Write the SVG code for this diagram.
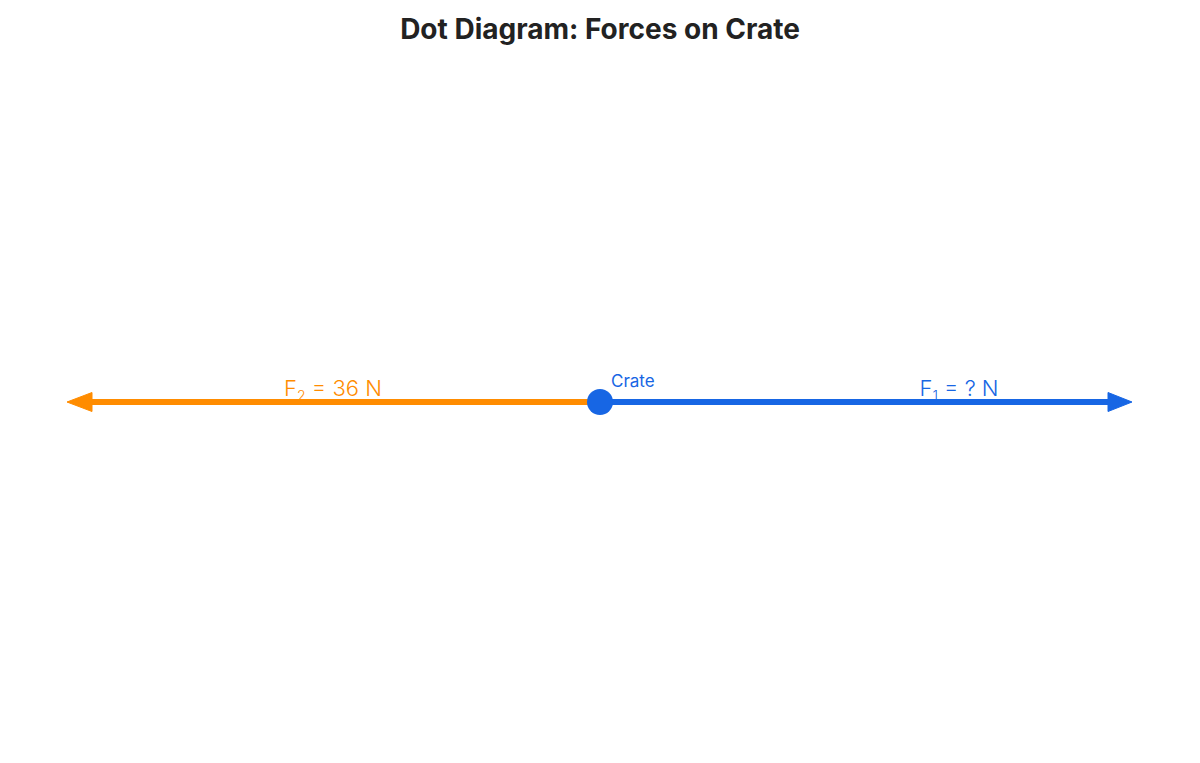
<svg xmlns="http://www.w3.org/2000/svg" width="1200" height="763" viewBox="0 0 1200 763">
<style>
text{font-family:Inter,"Noto Sans","Liberation Sans",sans-serif}
.title{font-size:28px;font-weight:700;fill:#222222;text-anchor:middle}
.lbl{font-size:22px;font-weight:300;text-anchor:middle}
.sub{font-size:14px}
.orange{fill:#FF8C00}
.blue{fill:#1766E4}
</style>
<rect width="1200" height="763" fill="#ffffff"/>
<text class="title" x="600" y="39">Dot Diagram: Forces on Crate</text>
<g id="connectors">
<g id="f2">
<line x1="600" y1="402" x2="90" y2="402" stroke="#FF8C00" stroke-width="6"/>
<polygon points="67,402 92,392.5 92,411.5" fill="#FF8C00" stroke="#FF8C00" stroke-width="1" stroke-linejoin="round"/>
</g>
<g id="f1">
<line x1="600" y1="402" x2="1110" y2="402" stroke="#1766E4" stroke-width="6"/>
<polygon points="1132,402 1108,392.5 1108,411.5" fill="#1766E4" stroke="#1766E4" stroke-width="1" stroke-linejoin="round"/>
</g>
</g>
<g id="crate">
<circle cx="600" cy="402" r="13" fill="#1766E4"/>
<text x="611" y="387" font-size="17" class="blue">Crate</text>
</g>
<g id="label-f2">
<text class="lbl orange" x="333" y="396">F<tspan class="sub" dy="5">2</tspan><tspan dy="-5"> = 36 N</tspan></text>
</g>
<g id="label-f1">
<text class="lbl blue" x="959" y="396">F<tspan class="sub" dy="5">1</tspan><tspan dy="-5"> = ? N</tspan></text>
</g>
</svg>
